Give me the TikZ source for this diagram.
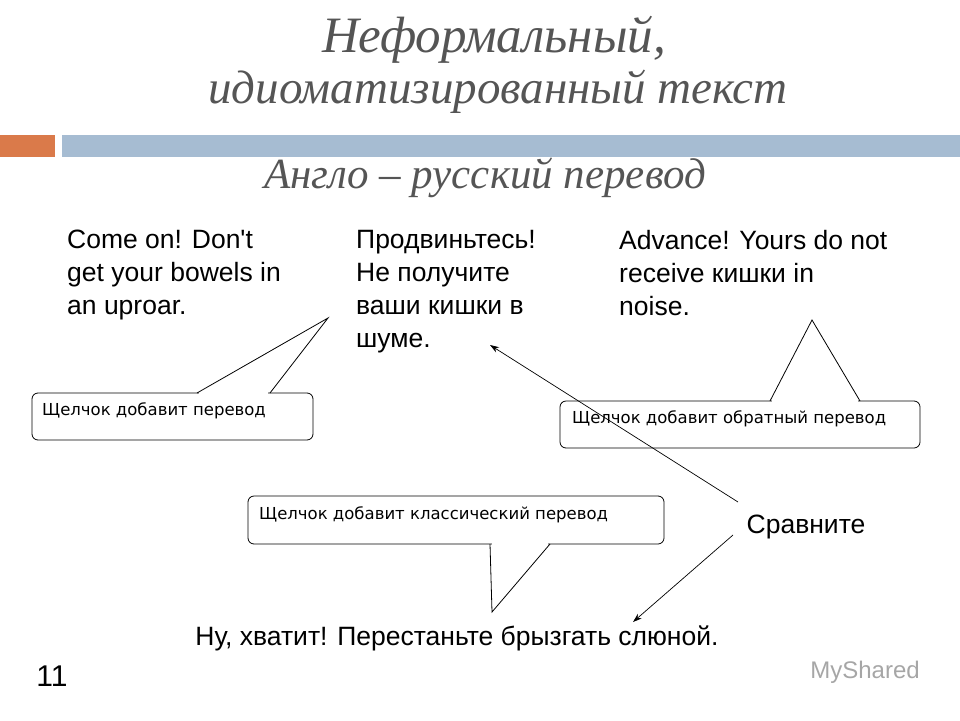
\documentclass[tikz,border=0pt]{standalone}
\usepackage{fontspec}
\setmainfont{Liberation Serif}
\newfontfamily\bodyf{Liberation Sans}
\newfontfamily\smallf{DejaVu Sans}
\usetikzlibrary{arrows.meta}
\definecolor{titlegray}{RGB}{85,85,85}
\definecolor{barorange}{RGB}{218,122,74}
\definecolor{barblue}{RGB}{166,188,210}
\tikzset{
 body/.style={font=\bodyf\fontsize{26.5}{33}\selectfont,align=left,anchor=north west,inner sep=0},
 callout/.style={draw,rounded corners=6,fill=white,line width=0.8},
 ctext/.style={font=\smallf\fontsize{16.5}{18}\selectfont,anchor=north west,inner sep=0},
 arr/.style={-{Stealth[length=9,width=6]},line width=0.7}
}
\begin{document}
\begin{tikzpicture}[x=1pt,y=-1pt]
\useasboundingbox (0,0) rectangle (960,720);
\node[text=titlegray,font=\itshape\fontsize{51}{56}\selectfont] (t1) at (494,40) {Неформальный,};
\node[text=titlegray,font=\itshape\fontsize{47}{52}\selectfont] (t2) at (498,92) {идиоматизированный текст};
\fill[barorange] (0,135) rectangle (55,157);
\fill[barblue] (62,135) rectangle (960,157);
\node[text=titlegray,font=\itshape\fontsize{43}{48}\selectfont] (t3) at (485,178) {Англо -- русский перевод};
\node[body] (en) at (67,230) {Come on! Don't\\get your bowels in\\an uproar.};
\node[body] (ru) at (356,230) {Продвиньтесь!\\Не получите\\ваши кишки в\\шуме.};
\node[body] (bk) at (619,230) {Advance! Yours do not\\receive кишки in\\noise.};
% callout 1
\draw[callout] (32,393) rectangle (313,440);
\draw[white,line width=2] (199,393) -- (268,393);
\coordinate (p1) at (328,318);
\draw[line width=0.8] (197,393) -- (p1) -- (270,393);
\node[ctext] (c1) at (42,402) {Щелчок добавит перевод};
% callout 2
\draw[callout] (560,401) rectangle (920,448);
\draw[white,line width=2] (772,401) -- (858,401);
\coordinate (p2) at (812,320);
\draw[line width=0.8] (770,401) -- (p2) -- (860,401);
\node[ctext] (c2) at (572,410) {Щелчок добавит обратный перевод};
% callout 3
\draw[callout] (248,496) rectangle (664,544);
\draw[white,line width=2] (492,544) -- (548,544);
\coordinate (p3) at (492,612);
\draw[line width=0.8] (490,544) -- (p3) -- (550,544);
\node[ctext] (c3) at (259,506) {Щелчок добавит классический перевод};
\node[font=\bodyf\fontsize{26.5}{30}\selectfont] (cmp) at (806,527) {Сравните};
\node[font=\bodyf\fontsize{26.5}{30}\selectfont] (cl) at (457,638) {Ну, хватит! Перестаньте брызгать слюной.};
\coordinate (a1s) at (738,502);
\coordinate (a1e) at (490,345);
\coordinate (a2s) at (733,535);
\coordinate (a2e) at (633,622);
\draw[arr] (a1s) -- (a1e);
\draw[arr] (a2s) -- (a2e);
\node[font=\bodyf\fontsize{30}{32}\selectfont] (num) at (52,676) {11};
\node[text=gray!70,font=\bodyf\fontsize{24}{26}\selectfont] (wm) at (865,672) {MyShared};
\end{tikzpicture}
\end{document}
